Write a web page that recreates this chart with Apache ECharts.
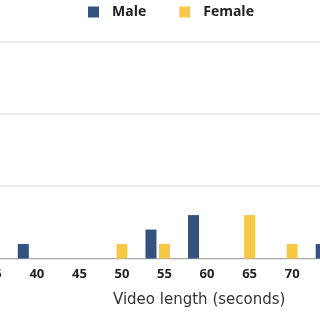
<!DOCTYPE html>
<html><head><meta charset="utf-8">
<script src="https://cdn.jsdelivr.net/npm/echarts@6/dist/echarts.min.js"></script>
<style>html,body{margin:0;padding:0;background:#fff;overflow:hidden;width:320px;height:320px}#c{position:absolute;left:-27px;top:0;width:383px;height:320px}</style>
</head><body><div id="c"></div>
<script>
const categories = ['35','40','45','50','55','60','65','70','75'];
const male = [null, 1, null, null, 2, 3, null, null, 1];
const female = [null, null, null, 1, 1, null, 3, 1, null];
const other = [null, null, null, null, null, null, null, null, null];
const seriesNames = ['Male', 'Female'];
const xTitle = 'Video length (seconds)';

const chart = echarts.init(document.getElementById('c'));
chart.setOption({
  animation: false,
  textStyle: { fontFamily: 'Open Sans' },
  title: {
    text: xTitle, left: 140, top: 293, padding: 0,
    textStyle: { fontSize: 15, fontWeight: 'normal', color: '#333', fontFamily: 'DejaVu Sans' }
  },
  legend: {
    data: seriesNames, top: 5, left: 115, padding: 0, itemWidth: 11, itemHeight: 11, itemGap: 33,
    icon: 'rect',
    textStyle: { fontSize: 14, fontWeight: 'bold', color: '#222', padding: [0, 0, 0, 8] }
  },
  grid: { left: 0, right: 0, top: 41.5, bottom: 61.5, containLabel: false },
  xAxis: {
    type: 'category', data: categories,
    axisLine: { lineStyle: { color: '#aaa', width: 1 } },
    axisTick: { show: false },
    axisLabel: { fontSize: 13, fontWeight: 'bold', color: '#222', margin: 9, interval: 0 }
  },
  yAxis: {
    type: 'value', min: 0, max: 15, interval: 5,
    axisLabel: { show: false },
    splitLine: { lineStyle: { color: '#e2e2e2', width: 1.5 } }
  },
  series: [
    { name: 'Male', type: 'bar', data: male, barWidth: 11, barGap: '23%', barCategoryGap: '10%', itemStyle: { color: '#34517f' } },
    { name: 'Female', type: 'bar', data: female, barWidth: 11, barGap: '23%', itemStyle: { color: '#f6c945' } },
    { name: 'Other', type: 'bar', data: other, barWidth: 11, barGap: '23%', itemStyle: { color: '#999' } }
  ]
});
</script></body></html>
